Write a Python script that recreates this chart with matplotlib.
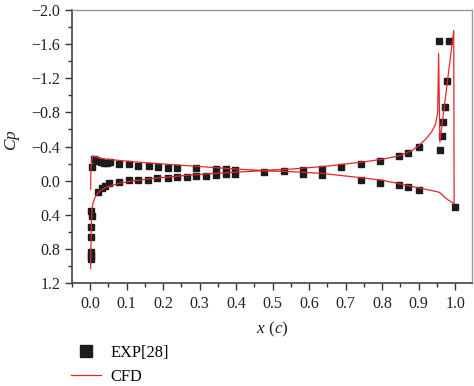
import matplotlib
matplotlib.use("Agg")
import matplotlib.pyplot as plt
from matplotlib.ticker import MultipleLocator, FuncFormatter

plt.rcParams['font.family'] = ['Liberation Serif', 'DejaVu Serif']
plt.rcParams['mathtext.fontset'] = 'custom'
plt.rcParams['mathtext.it'] = 'Liberation Serif:italic'
plt.rcParams['mathtext.rm'] = 'Liberation Serif'

# Experimental data (EXP[28])
exp_le_x = [0.003, 0.004, 0.002, 0.002, 0.001, 0.001, 0.001]
exp_le_cp = [0.36, 0.42, 0.54, 0.66, 0.84, 0.88, 0.92]

exp_upper_x = [0.005, 0.009, 0.015, 0.022, 0.029, 0.037, 0.045, 0.053, 0.079, 0.105,
               0.132, 0.16, 0.187, 0.213, 0.237, 0.291, 0.345, 0.372, 0.396, 0.477,
               0.53, 0.584, 0.635, 0.688, 0.742, 0.795, 0.847, 0.872, 0.90, 0.959,
               0.963, 0.966, 0.971, 0.977, 0.955, 0.984]
exp_upper_cp = [-0.16, -0.25, -0.24, -0.23, -0.22, -0.21, -0.21, -0.22, -0.19, -0.19,
                -0.175, -0.167, -0.163, -0.152, -0.152, -0.148, -0.14, -0.14, -0.12, -0.105,
                -0.113, -0.13, -0.14, -0.156, -0.20, -0.226, -0.284, -0.32, -0.39, -0.36,
                -0.52, -0.686, -0.862, -1.17, -1.64, -1.64]

exp_lower_x = [0.02, 0.032, 0.041, 0.052, 0.079, 0.105, 0.132, 0.158, 0.184, 0.212,
               0.237, 0.265, 0.291, 0.318, 0.345, 0.372, 0.396, 0.584, 0.635, 0.742,
               0.795, 0.847, 0.872, 0.90, 1.0]
exp_lower_cp = [0.133, 0.086, 0.058, 0.027, 0.012, -0.004, -0.008, -0.012, -0.031, -0.035,
                -0.039, -0.047, -0.055, -0.058, -0.07, -0.074, -0.078, -0.08, -0.07, -0.008,
                0.023, 0.055, 0.074, 0.113, 0.304]

# CFD (ordered around the airfoil: lower surface LE->TE, then upper surface TE->LE)
cfd_x = [0.001, 0.002, 0.003, 0.005, 0.009, 0.014, 0.02, 0.027, 0.04, 0.055,
         0.08, 0.11, 0.17, 0.27, 0.4, 0.47, 0.55, 0.635, 0.74, 0.8,
         0.85, 0.9, 0.94, 0.955, 0.962, 0.97, 0.98, 0.997,
         0.996, 0.958, 0.9545, 0.952, 0.946, 0.935, 0.92, 0.9, 0.88, 0.85,
         0.8, 0.74, 0.65, 0.55, 0.47, 0.4, 0.3, 0.2, 0.12, 0.06,
         0.03, 0.012, 0.007, 0.004, 0.002, 0.001]
cfd_cp = [1.03, 0.8, 0.5, 0.32, 0.24, 0.19, 0.15, 0.12, 0.085, 0.06,
          0.03, 0.008, -0.025, -0.065, -0.1, -0.115, -0.105, -0.085, -0.035, -0.005,
          0.04, 0.086, 0.12, 0.135, 0.155, 0.19, 0.225, 0.27,
          -1.76, -0.45, -1.49, -0.8, -0.66, -0.57, -0.49, -0.41, -0.35, -0.295,
          -0.25, -0.215, -0.17, -0.135, -0.12, -0.135, -0.165, -0.195, -0.22, -0.245,
          -0.26, -0.28, -0.29, -0.25, -0.15, 0.1]

x_ticks = [0.0, 0.1, 0.2, 0.3, 0.4, 0.5, 0.6, 0.7, 0.8, 0.9, 1.0]
y_ticks = [-2.0, -1.6, -1.2, -0.8, -0.4, 0.0, 0.4, 0.8, 1.2]

W, H = 474, 386
fig = plt.figure(figsize=(W / 100, H / 100), dpi=100)
ax = fig.add_axes([72 / W, 1 - 283 / H, (472 - 72) / W, (283 - 10) / H])

red = '#e3262c'
sq = '#1c1c1c'
ax.plot(exp_le_x + exp_upper_x + exp_lower_x, exp_le_cp + exp_upper_cp + exp_lower_cp,
        linestyle='none', marker='s', markersize=4.6, color=sq, label='EXP[28]')
ax.plot(cfd_x, cfd_cp, color=red, linewidth=0.9, label='CFD')

ax.set_xlim(-0.05, 1.046)
ax.set_ylim(1.2, -2.0)
ax.set_xticks(x_ticks)
ax.set_yticks(y_ticks)
ax.xaxis.set_minor_locator(MultipleLocator(0.05))
ax.yaxis.set_minor_locator(MultipleLocator(0.2))
fmt = FuncFormatter(lambda v, p: ('%.1f' % v).replace('-', '\u2212') if abs(v) > 1e-9 else '0.0')
ax.xaxis.set_major_formatter(fmt)
ax.yaxis.set_major_formatter(fmt)
ax.tick_params(which='both', direction='out', colors='#333333', labelsize=11.5,
               top=False, right=False)
ax.tick_params(which='major', length=5, width=1)
ax.tick_params(which='minor', length=3, width=1)
ax.tick_params(axis='x', pad=4)
for s in ['left', 'bottom']:
    ax.spines[s].set_color('#444444')
    ax.spines[s].set_linewidth(1.2)
for s in ['top', 'right']:
    ax.spines[s].set_color('#999999')
    ax.spines[s].set_linewidth(1.0)
for lab in ax.get_xticklabels() + ax.get_yticklabels():
    lab.set_color('#222222')

ax.set_xlabel(r'$x$ ($c$)', fontsize=12.5, color='#222222', labelpad=6)
ax.set_ylabel(r'$Cp$', fontsize=12.5, color='#222222')
ax.yaxis.set_label_coords(-0.125, 0.524)

fig.legend(loc='upper left', bbox_to_anchor=(71 / W, 1 - 345 / H), frameon=False,
           fontsize=11.8, handlelength=1.85, handletextpad=0.55, labelspacing=0.5,
           borderpad=0, borderaxespad=0, markerscale=1.75)

fig.savefig('out.png', dpi=100)
